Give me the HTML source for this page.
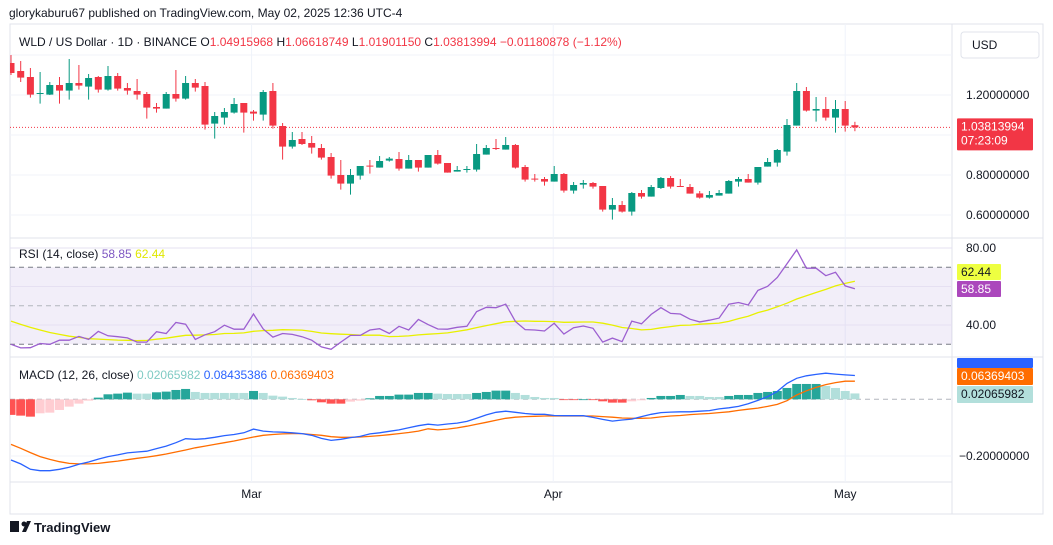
<!DOCTYPE html>
<html><head><meta charset="utf-8"><style>
html,body{margin:0;padding:0;background:#fff;}
body{width:1053px;height:545px;overflow:hidden;font-family:"Liberation Sans",sans-serif;}
svg{display:block}
text{font-family:"Liberation Sans",sans-serif;}
</style></head><body>
<svg id="tvChart" width="1053" height="545" viewBox="0 0 1053 545">
  <defs><clipPath id="plotClip"><rect x="10" y="24" width="942" height="458"/></clipPath></defs>
  <text x="9" y="17" font-size="12" fill="#131722">glorykaburu67 published on TradingView.com, May 02, 2025 12:36 UTC-4</text>
  <rect x="10" y="24" width="1033" height="490" fill="none" stroke="#e0e3eb"/>
  <line x1="952" y1="24" x2="952" y2="514" stroke="#e0e3eb"/>
  <line x1="10" y1="238" x2="1043" y2="238" stroke="#e0e3eb"/>
  <line x1="10" y1="357" x2="1043" y2="357" stroke="#e0e3eb"/>
  <line x1="10" y1="482" x2="952" y2="482" stroke="#e0e3eb"/>
  <g id="layerGrid"></g>
  <g id="layerRsi"></g>
  <g id="layerMacd"></g>
  <g id="layerCandles"></g>
  <g id="layerAxes"></g>
  <text x="19" y="46" font-size="12" fill="#131722">WLD / US Dollar · 1D · BINANCE <tspan fill="#131722">O</tspan><tspan fill="#f23645">1.04915968</tspan> <tspan>H</tspan><tspan fill="#f23645">1.06618749</tspan> <tspan>L</tspan><tspan fill="#f23645">1.01901150</tspan> <tspan>C</tspan><tspan fill="#f23645">1.03813994</tspan> <tspan fill="#f23645">−0.01180878 (−1.12%)</tspan></text>
  <g>
    <rect x="961" y="32" width="78" height="26" rx="3" fill="#fff" stroke="#e0e3eb"/>
    <text x="972" y="49" font-size="12" fill="#131722">USD</text>
  </g>
  <text x="19" y="258" font-size="12" fill="#131722">RSI (14, close) <tspan fill="#7e57c2">58.85</tspan> <tspan fill="#e0e800">62.44</tspan></text>
  <text x="19" y="379" font-size="12" fill="#131722">MACD (12, 26, close) <tspan fill="#80cbc4">0.02065982</tspan> <tspan fill="#2962ff">0.08435386</tspan> <tspan fill="#ff6d00">0.06369403</tspan></text>
  <g>
    <rect x="10" y="521" width="9" height="11" fill="#131722"/>
    <circle cx="24" cy="524" r="2.5" fill="#131722"/>
    <polygon points="22,532 27,521 31,521 26,532" fill="#131722"/>
    <text x="34" y="532" font-size="13" font-weight="bold" fill="#131722">TradingView</text>
  </g>
</svg>
<script>
var opens=[1.36,1.320,1.290,1.207,1.202,1.250,1.222,1.260,1.242,1.290,1.227,1.295,1.235,1.220,1.205,1.140,1.132,1.205,1.182,1.260,1.245,1.057,1.087,1.112,1.160,1.117,1.102,1.220,1.045,0.942,0.980,0.960,0.935,0.890,0.800,0.757,0.797,0.847,0.837,0.872,0.880,0.832,0.875,0.837,0.900,0.860,0.817,0.826,0.827,0.902,0.935,0.927,0.950,0.840,0.782,0.780,0.767,0.805,0.722,0.752,0.760,0.745,0.627,0.650,0.617,0.710,0.692,0.735,0.785,0.745,0.740,0.708,0.687,0.697,0.707,0.767,0.780,0.762,0.842,0.862,0.917,1.047,1.220,1.122,1.130,1.087,1.130,1.049];
var highs=[1.40,1.370,1.335,1.315,1.265,1.290,1.380,1.350,1.305,1.295,1.345,1.310,1.260,1.280,1.215,1.160,1.215,1.325,1.295,1.280,1.265,1.115,1.135,1.185,1.160,1.125,1.225,1.260,1.060,1.015,1.015,0.995,0.955,0.910,0.875,0.830,0.845,0.875,0.895,0.890,0.915,0.900,0.875,0.900,0.925,0.860,0.845,0.845,0.955,0.950,0.980,0.990,0.955,0.850,0.805,0.790,0.845,0.810,0.765,0.775,0.765,0.745,0.685,0.670,0.715,0.725,0.750,0.790,0.795,0.780,0.755,0.720,0.720,0.725,0.775,0.790,0.805,0.840,0.885,0.930,1.080,1.260,1.240,1.190,1.190,1.175,1.170,1.066];
var lows=[1.30,1.265,1.187,1.157,1.200,1.157,1.177,1.227,1.177,1.212,1.222,1.222,1.202,1.177,1.082,1.112,1.132,1.167,1.177,1.217,1.027,0.982,1.052,1.107,1.012,1.072,1.072,1.032,0.877,0.932,0.950,0.907,0.877,0.782,0.727,0.702,0.777,0.807,0.837,0.867,0.822,0.832,0.817,0.837,0.852,0.812,0.817,0.812,0.817,0.902,0.925,0.927,0.832,0.767,0.767,0.747,0.767,0.712,0.707,0.732,0.732,0.617,0.577,0.612,0.597,0.682,0.692,0.730,0.732,0.740,0.707,0.682,0.682,0.697,0.707,0.742,0.762,0.752,0.842,0.842,0.897,1.047,1.117,1.067,1.072,1.012,1.017,1.019];
var closes=[1.31,1.287,1.202,1.210,1.250,1.222,1.260,1.247,1.285,1.227,1.295,1.232,1.222,1.202,1.137,1.132,1.205,1.182,1.260,1.237,1.052,1.095,1.115,1.155,1.112,1.107,1.215,1.047,0.942,0.975,0.955,0.937,0.887,0.797,0.757,0.800,0.845,0.842,0.870,0.882,0.832,0.875,0.837,0.900,0.857,0.812,0.825,0.830,0.905,0.935,0.930,0.950,0.837,0.777,0.777,0.767,0.805,0.722,0.750,0.760,0.742,0.627,0.650,0.617,0.710,0.692,0.740,0.785,0.742,0.740,0.707,0.687,0.700,0.710,0.770,0.780,0.762,0.840,0.865,0.925,1.050,1.220,1.122,1.130,1.087,1.130,1.047,1.038];
var rsiValues=[30,28.1,28.2,30.4,30,32.1,32.1,34.1,32.5,36.7,34.4,33.9,33.3,31.1,31.1,36.5,35.6,41.3,40.4,32.5,34.9,36.5,39.9,37.8,37.8,45.7,37.9,33.7,35.6,35.1,33.9,32.1,28.6,27.4,31.1,34.6,34.6,37.4,38.1,35.6,39.3,37.4,42.9,40.2,37.9,37.8,38.8,39.3,46.9,49.2,49.0,50.8,41.8,37.6,37.4,36.9,40.9,35.3,38.6,39.5,38.3,31.1,33.2,31.4,42.0,40.6,45.5,49.0,46.0,45.7,43.0,41.6,42.5,43.6,50.8,51.7,50.4,58.0,60.1,64.7,71.8,79.0,69.5,69.5,65.6,67.4,60.3,58.85];
var rsiPrehistory=[52,50,49,48,46,45,43,42,40,38,37,35,33];
var histValues=[-0.055,-0.0576,-0.0612,-0.0494,-0.0471,-0.0376,-0.0259,-0.0153,-0.0047,0.0059,0.0176,0.02,0.0235,0.02,0.02,0.0247,0.0271,0.0329,0.0365,0.0259,0.0224,0.0224,0.0224,0.0224,0.0224,0.0294,0.0224,0.0129,0.0094,0.0047,0.0012,-0.0035,-0.0106,-0.0153,-0.0153,-0.0082,-0.0047,0.0035,0.0118,0.0118,0.0165,0.0165,0.0224,0.0224,0.02,0.0188,0.0188,0.0188,0.0224,0.0259,0.0306,0.0306,0.0224,0.0153,0.0082,0.0047,0.0047,-0.0012,-0.0012,0,-0.0012,-0.0071,-0.0118,-0.0118,-0.0071,-0.0035,0.0047,0.0118,0.0118,0.0153,0.0118,0.0118,0.0082,0.0082,0.0118,0.0153,0.0153,0.0224,0.0259,0.0294,0.04,0.0541,0.0541,0.0541,0.0471,0.04,0.0294,0.0207];
var macdValues=[-0.214,-0.228,-0.247,-0.252,-0.252,-0.247,-0.240,-0.229,-0.221,-0.211,-0.202,-0.196,-0.189,-0.186,-0.183,-0.174,-0.165,-0.153,-0.139,-0.141,-0.139,-0.134,-0.128,-0.124,-0.118,-0.105,-0.112,-0.115,-0.116,-0.118,-0.121,-0.127,-0.138,-0.145,-0.141,-0.135,-0.131,-0.122,-0.118,-0.113,-0.108,-0.100,-0.093,-0.088,-0.091,-0.087,-0.084,-0.078,-0.067,-0.055,-0.046,-0.042,-0.046,-0.050,-0.053,-0.053,-0.057,-0.058,-0.058,-0.058,-0.064,-0.071,-0.077,-0.073,-0.070,-0.061,-0.053,-0.047,-0.045,-0.044,-0.044,-0.042,-0.040,-0.034,-0.030,-0.025,-0.016,-0.004,0.009,0.028,0.056,0.074,0.083,0.088,0.092,0.089,0.086,0.084];
var signalValues=[-0.159,-0.173,-0.188,-0.202,-0.212,-0.220,-0.226,-0.228,-0.228,-0.226,-0.222,-0.218,-0.213,-0.208,-0.204,-0.199,-0.193,-0.186,-0.179,-0.171,-0.165,-0.159,-0.153,-0.147,-0.140,-0.133,-0.127,-0.124,-0.122,-0.121,-0.121,-0.124,-0.127,-0.132,-0.134,-0.134,-0.133,-0.131,-0.128,-0.125,-0.121,-0.117,-0.112,-0.104,-0.108,-0.105,-0.101,-0.095,-0.088,-0.081,-0.074,-0.067,-0.063,-0.061,-0.060,-0.059,-0.059,-0.059,-0.059,-0.059,-0.059,-0.061,-0.063,-0.066,-0.067,-0.067,-0.066,-0.062,-0.059,-0.057,-0.054,-0.052,-0.050,-0.047,-0.044,-0.039,-0.035,-0.031,-0.025,-0.018,-0.005,0.015,0.030,0.042,0.052,0.059,0.064,0.0637];
var priceTicks=["1.40000000","1.20000000","0.80000000","0.60000000"];
var priceTickValues=[1.4,1.2,0.8,0.6];
var rsiTicks=["80.00","40.00"];
var rsiTickValues=[80,40];
var macdTicks=["−0.20000000"];
var macdTickValues=[-0.2];
var monthLabels=["Mar","Apr","May"];
var monthIndex=[24.8,55.9,86.0];

var SVGNS="http://www.w3.org/2000/svg";
function mk(tag,attrs,parent){var e=document.createElementNS(SVGNS,tag);for(var k in attrs){e.setAttribute(k,String(attrs[k]));}parent.appendChild(e);return e;}
function xScale(i){return 11+i*9.7;}
function yPrice(p){return 95+(1.2-p)*200;}
function yRsi(v){return 325-(v-40)*1.925;}
function yMacd(v){return 399.3-v*283.5;}
function pathD(vals,yf){var s="";for(var i=0;i<vals.length;i++){s+=(i?"L":"M")+xScale(i).toFixed(1)+","+yf(vals[i]).toFixed(1);}return s;}
var PL=10,PR=952;

(function(){
var gGrid=document.getElementById("layerGrid");
var gAxes=document.getElementById("layerAxes");
var gRsi=document.getElementById("layerRsi");
var gMacd=document.getElementById("layerMacd");
var gC=document.getElementById("layerCandles");

try{
priceTickValues.concat([1.0]).forEach(function(v){var l=mk("line",{x1:PL,x2:PR,y1:yPrice(v),y2:yPrice(v),stroke:"#f0f3fa"},gGrid);

});
monthIndex.forEach(function(i){var l=mk("line",{x1:xScale(i),x2:xScale(i),y1:24,y2:482,stroke:"#f0f3fa"},gGrid);

});
}catch(e){}

try{
var band=mk("rect",{x:PL,y:yRsi(70),width:PR-PL,height:yRsi(30)-yRsi(70),fill:"rgba(126,87,194,0.1)"},gRsi);


[80,60,40].forEach(function(v){mk("line",{x1:PL,x2:PR,y1:yRsi(v),y2:yRsi(v),stroke:"#e6e0f2"},gRsi);});
[70,30].forEach(function(v){mk("line",{x1:PL,x2:PR,y1:yRsi(v),y2:yRsi(v),stroke:"#787b86","stroke-dasharray":"5,4"},gRsi);});
mk("line",{x1:PL,x2:PR,y1:yRsi(50),y2:yRsi(50),stroke:"#b2b5be","stroke-dasharray":"5,4"},gRsi);
var rsiAll=rsiPrehistory.concat(rsiValues);
var maVals=rsiValues.map(function(v,i){var s=0;for(var k=0;k<14;k++){s+=rsiAll[i+13-k];}return s/14;});
var maPath=mk("path",{d:pathD(maVals,yRsi),fill:"none",stroke:"#e8f000","stroke-width":1.3,"clip-path":"url(#plotClip)"},gRsi);


var rsiPath=mk("path",{d:pathD(rsiValues,yRsi),fill:"none",stroke:"#9c5fd0","stroke-width":1.3,"clip-path":"url(#plotClip)"},gRsi);


}catch(e){}

try{
mk("line",{x1:PL,x2:PR,y1:yMacd(0),y2:yMacd(0),stroke:"#b2b5be","stroke-dasharray":"5,4"},gMacd);
mk("line",{x1:PL,x2:PR,y1:yMacd(-0.2),y2:yMacd(-0.2),stroke:"#f0f3fa"},gMacd);
var prevColor="#ff5252";
histValues.forEach(function(v,i){
  var prev=i?histValues[i-1]:v;var c;
  if(v>=0){c=v>prev?"#26a69a":(v<prev?"#b2dfdb":(prevColor==="#26a69a"||prevColor==="#b2dfdb"?prevColor:"#26a69a"));}
  else{c=v<prev?"#ff5252":(v>prev?"#ffcdd2":(prevColor==="#ff5252"||prevColor==="#ffcdd2"?prevColor:"#ff5252"));}
  prevColor=c;
  var y0=yMacd(0),y1=yMacd(v);
  var b=mk("rect",{x:xScale(i)-4.5,y:Math.min(y0,y1),width:9,height:Math.max(0.8,Math.abs(y1-y0)),fill:c,"clip-path":"url(#plotClip)"},gMacd);
  
  
});
var sigPath=mk("path",{d:pathD(signalValues,yMacd),fill:"none",stroke:"#ff6d00","stroke-width":1.3,"clip-path":"url(#plotClip)"},gMacd);


var macdPath=mk("path",{d:pathD(macdValues,yMacd),fill:"none",stroke:"#2962ff","stroke-width":1.3,"clip-path":"url(#plotClip)"},gMacd);


}catch(e){}

try{
var lastClose=closes[closes.length-1];
mk("line",{x1:PL,x2:PR,y1:yPrice(lastClose),y2:yPrice(lastClose),stroke:"#f23645","stroke-dasharray":"1,2"},gC);
opens.forEach(function(o,i){
  var c=closes[i],up=c>=o,col=up?"#089981":"#f23645",x=xScale(i);
  var g=mk("g",{"clip-path":"url(#plotClip)"},gC);
  
  
  mk("line",{x1:x,x2:x,y1:yPrice(highs[i]),y2:yPrice(lows[i]),stroke:col,"stroke-width":1},g);
  var yt=yPrice(Math.max(o,c)),yb=yPrice(Math.min(o,c));
  mk("rect",{x:x-3.5,y:yt,width:7,height:Math.max(1,yb-yt),fill:col},g);
});
}catch(e){}

try{
function addLabel(txt,x,y,nm){var t=mk("text",{x:x,y:y,"font-size":12,fill:"#131722"},gAxes);t.textContent=txt;


return t;}
priceTicks.forEach(function(t,k){if(yPrice(priceTickValues[k])>70){addLabel(t,966,yPrice(priceTickValues[k])+4,"price-tick-label");}});
rsiTicks.forEach(function(t,k){addLabel(t,966,yRsi(rsiTickValues[k])+4,"rsi-tick-label");});
macdTicks.forEach(function(t,k){addLabel(t,959,yMacd(macdTickValues[k])+4,"macd-tick-label");});
monthLabels.forEach(function(t,k){var e=addLabel(t,xScale(monthIndex[k]),498,"month-label");e.setAttribute("text-anchor","middle");});
function badge(y,h,bg,fg,lines,nm,w){var g=mk("g",{},gAxes);


mk("rect",{x:957,y:y,width:w||76,height:h,fill:bg,rx:1},g);lines.forEach(function(s,k){var t=mk("text",{x:961,y:y+12+k*14,"font-size":12,fill:fg},g);t.textContent=s;});}
badge(yPrice(closes[closes.length-1])-9,32,"#f23645","#fff",["1.03813994","07:23:09"],"current-price-badge");
badge(264,16,"#eeff41","#131722",["62.44"],"rsi-ma-badge",44);
badge(281,16,"#ab47bc","#fff",["58.85"],"rsi-badge",44);
badge(358,10,"#2962ff","#fff",[],"macd-badge");
badge(368,17,"#ff6d00","#fff",["0.06369403"],"signal-badge");
badge(386,17,"#b2dfdb","#131722",["0.02065982"],"histogram-badge");
}catch(e){}
})();
</script>
</body></html>
